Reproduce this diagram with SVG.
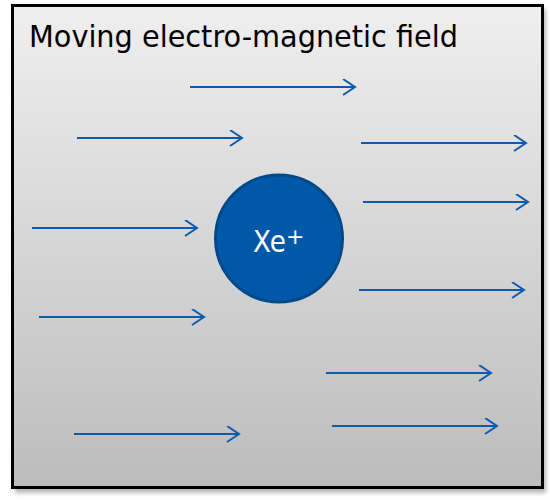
<svg xmlns="http://www.w3.org/2000/svg" width="550" height="500" viewBox="0 0 550 500">
<defs>
<linearGradient id="bg" x1="0" y1="0" x2="0" y2="1">
<stop offset="0" stop-color="#efefef"/>
<stop offset="1" stop-color="#bcbcbc"/>
</linearGradient>
<filter id="sh" x="-5%" y="-5%" width="110%" height="110%">
<feGaussianBlur stdDeviation="2"/>
</filter>
<marker id="ah" markerUnits="userSpaceOnUse" markerWidth="20" markerHeight="20" refX="14" refY="8" orient="auto">
<path d="M2,0 L14,8 L2,16" fill="none" stroke="#0b5cb0" stroke-width="2"/>
</marker>
<style>
.arr{stroke:#0b5cb0;stroke-width:2;fill:none;marker-end:url(#ah)}
.title{font-family:"DejaVu Sans",sans-serif;font-size:30px;fill:#000}
.lbl{font-family:"DejaVu Sans",sans-serif;font-size:31px;fill:#fff}
</style>
</defs>
<rect x="15" y="9" width="531" height="484" fill="#888" opacity="0.6" filter="url(#sh)"/>
<rect id="frame" x="12.5" y="5.5" width="530" height="482" fill="url(#bg)" stroke="#000" stroke-width="3"/>
<text class="title" x="29" y="47" textLength="429" lengthAdjust="spacingAndGlyphs">Moving electro-magnetic field</text>
<g id="connectors">
<line class="arr" x1="190" y1="87" x2="355" y2="87"/>
<line class="arr" x1="77" y1="138" x2="242" y2="138"/>
<line class="arr" x1="361" y1="143" x2="526" y2="143"/>
<line class="arr" x1="363" y1="202" x2="528" y2="202"/>
<line class="arr" x1="32" y1="228" x2="197" y2="228"/>
<line class="arr" x1="359" y1="290" x2="524" y2="290"/>
<line class="arr" x1="39" y1="317" x2="204" y2="317"/>
<line class="arr" x1="326" y1="373" x2="491" y2="373"/>
<line class="arr" x1="332" y1="426" x2="497" y2="426"/>
<line class="arr" x1="74" y1="434" x2="239" y2="434"/>
</g>
<g id="xe">
<circle cx="279" cy="238.5" r="63.5" fill="#0059a8" stroke="#004a8c" stroke-width="3"/>
<text class="lbl" x="253" y="252"><tspan textLength="33" lengthAdjust="spacingAndGlyphs">Xe</tspan><tspan x="286" y="244" font-size="22">+</tspan></text>
</g>
</svg>
